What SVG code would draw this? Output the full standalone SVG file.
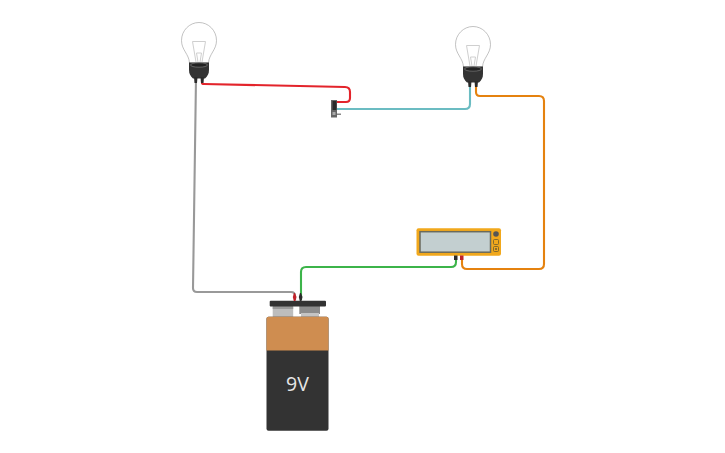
<svg xmlns="http://www.w3.org/2000/svg" width="725" height="453" viewBox="0 0 725 453">
<defs>
<style>
.wire{fill:none;stroke-width:2.100;stroke-linejoin:round}
.glass{fill:#fff;stroke:#999;stroke-width:.6}
.fil{fill:none;stroke:#cfcfcf;stroke-width:1}
.base{fill:#333}
.pin{fill:#2b2b2b}
</style>
<g id="bulbShape">
<path class="glass" d="M-9.500 40C-10 31 -17.500 27 -17.500 17.500C-17.500 7.500 -9.500 -0.500 0 -0.500C9.500 -0.500 17.500 7.500 17.500 17.500C17.500 27 10 31 9.500 40Z"/>
<path class="fil" d="M-3 39L-6.500 18.500H6.500L3 39M-1 39L-2.500 30H2.500L1 39"/>
<path class="base" d="M-10 39.500H10V47C10 51 8.500 53 6 55.500H-6C-8.500 53 -10 51 -10 47Z"/>
<ellipse cx="0" cy="42" rx="8.500" ry="2.200" fill="#222" stroke="#888" stroke-width=".6"/>
<path class="pin" d="M-5 54H-1.500L-2 60H-4.500ZM1.500 54H5L4.500 60H2Z"/>
</g>
</defs>
<rect width="725" height="453" fill="#fff"/>
<g id="connectors">
<path class="wire" stroke="#999" d="M196 78L193 288Q193 292 197 292H291Q295 292 295 296V300"/>
<path class="wire" stroke="#e3242b" d="M202 80V83Q202 84 204 84L345 87Q350 87 350 92V98Q350 102 346 102H337"/>
<path class="wire" stroke="#6bbcc2" d="M337 109H465Q470 109 470 104V84"/>
<path class="wire" stroke="#e5820f" d="M476 84V92Q476 96 480 96H539Q544 96 544 101V264Q544 269 539 269H467Q462 269 462 264V258"/>
<path class="wire" stroke="#3cb44a" d="M456 258V262Q456 267 451 267H306Q301 267 301 272V300"/>
</g>
<g id="bulb-left"><use href="#bulbShape" x="199" y="23"/></g>
<g id="bulb-right"><use href="#bulbShape" x="473" y="27"/></g>
<g id="switch">
<rect x="331" y="100" width="6" height="17.500" fill="#666"/>
<rect x="332.500" y="101" width="4" height="9" fill="#2a2a2a"/>
<rect x="332.500" y="112" width="3" height="3" fill="#aaa"/>
<rect x="337" y="113.500" width="4" height="1.500" fill="#888"/>
</g>
<g id="multimeter">
<rect x="416.500" y="228.200" width="84.500" height="27.500" rx="2" fill="#f1a81c"/>
<rect x="420" y="231.700" width="70.500" height="20.500" fill="#c3cfd0" stroke="#6a6a5c" stroke-width="1.500"/>
<circle cx="496" cy="234" r="2.800" fill="#555"/>
<rect x="493.500" y="239.500" width="5" height="5" rx="1" fill="#f1a81c" stroke="#6a5a30" stroke-width=".8"/>
<rect x="493.500" y="246.500" width="5" height="5" rx="1" fill="#f1a81c" stroke="#6a5a30" stroke-width=".8"/>
<circle cx="496" cy="249" r="1" fill="#6a5a30"/>
<rect x="454" y="255.500" width="3.500" height="4.500" fill="#2b2b2b"/>
<rect x="460" y="255.500" width="3.500" height="4.500" fill="#c0222a"/>
</g>
<g id="battery">
<rect x="272.700" y="307" width="20.500" height="10" fill="#bdbdbd"/>
<rect x="272.700" y="306" width="20.500" height="3" fill="#999"/>
<rect x="299.300" y="306" width="20.700" height="8" fill="#8c8c8c"/>
<rect x="301" y="313" width="18" height="4" fill="#c4c4c4"/>
<rect x="269.700" y="300.700" width="56.300" height="5.800" rx="1" fill="#333"/>
<rect x="266.500" y="316.700" width="62" height="114" rx="2" fill="#333"/>
<path d="M266.500 350.500V318.700Q266.500 316.700 268.500 316.700H326.500Q328.500 316.700 328.500 318.700V350.500Z" fill="#cf8d50"/>
<path d="M294 293H295L296.500 297L295.500 301H293.800L292.800 297Z" fill="#c0222a"/>
<path d="M300 293H301L302.500 297L301.500 301H299.800L298.800 297Z" fill="#2b2b2b"/>
<text x="297.500" y="391" text-anchor="middle" font-family="'Open Sans',sans-serif" font-size="19.500" fill="#e6e6e6">9V</text>
</g>
</svg>
